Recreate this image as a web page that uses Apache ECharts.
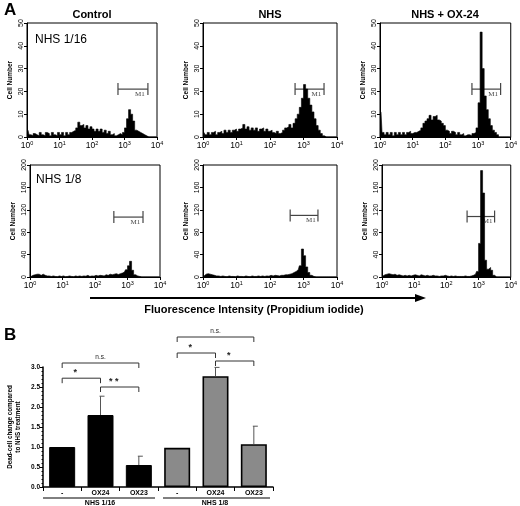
<!DOCTYPE html>
<html>
<head>
<meta charset="utf-8">
<script src="https://cdn.jsdelivr.net/npm/echarts@6/dist/echarts.min.js"></script>
<style>
html,body{margin:0;padding:0;background:#fff;}
#chart{width:520px;height:506px;}
</style>
</head>
<body>
<div id="chart"></div>
<script>
// ---------------- DATA ----------------
// Flow-cytometry histograms: counts per bin, 64 bins spanning 10^0 .. 10^4 (16 bins per decade)
const ctrl16 = [
3,1,0.5,1.5,1,0.5,2,1,0.5,2,
1.5,0.5,2,1,0.5,2,1,2,0.5,2,
1,2,2.5,3,4,6.5,5,5.5,4,5,
3.5,4.5,3.5,2.5,3.5,2.5,3.5,2,3,1.5,
2.5,1,1.5,0.5,1,1.5,1,2,4,8,
12,10,7,3,2.5,2,1.5,1,0.5,0,
0,0,0,0];
const nhs16 = [
2,1,2,1,2,2.5,1,2,2.5,1.5,
3,2,3,2,3,3.5,2.5,3.5,4,5.5,
3.5,4.5,3,4,3,4,2.5,3.5,4,2.5,
3.5,2.5,3,2,1.5,2.5,1.5,2,3,4,
4.5,5.5,4,6,8,10,13,17,23,21,
17,14,11,8,5,3,1.5,0.5,0,0,
0,0,0,0];
const ox16 = [
11,2,1,2,1,2,0.5,2,1,2,
1,2,1,2,2.5,1.5,2,2,2.5,3,
4,6,7,8,9.5,7.5,9,9.5,7.5,7,
6,5,3,2.5,1.5,2.5,2,1,2,1,
1.5,0.5,1,1,0.5,1.5,2,4,15,46,
30,18,12,8,5,3,2,1,0,0,
0,0,0,0];
const ctrl8 = [
1,3,4,5,5,3,5,3,2,2,
1,2,1,0.5,2,1,2,0.5,1,2,
1,0.5,2,1,2,1,2,1.5,3,1,
2,1.5,3,2,3,2.5,2,4,3,5,
4,5,6,4.5,6,7,9,13,20,28,
12,4,2,1,0,0,0,0,0,0,
0,0,0,0];
const nhs8 = [
2,5,6,5,4,3,2,2,1,2,
1,0.5,2,1,1,0.5,2,1,1,0.5,
2,1,0.5,2,1,1,2,1,2,1,
2,1.5,3,2,3,2.5,2,3,3,4,
4,5,6,8,10,13,20,50,38,18,
8,3,1,0,0,0,0,0,0,0,
0,0,0,0];
const ox8 = [
2,4,5,6,5,4,5,3,4,3,
2,3,2,3,2,3,4,3,2,4,
3,2,3,2,2,3,2,2,1,2,
2,3,2,1,2,1,2,1,1,1,
1,2,1,1,2,3,5,10,60,190,
150,30,14,17,12,3,0,0,0,0,
0,0,0,0];
const histograms = [ctrl16, nhs16, ox16, ctrl8, nhs8, ox8];
const columnTitles = ['Control', 'NHS', 'NHS + OX-24'];
const rowLabels = ['NHS 1/16', 'NHS 1/8'];
const yMaxByRow = [50, 200];
const yStepByRow = [10, 40];
// M1 gates (fluorescence range and height on count axis)
const m1Lo = [630, 560, 650, 380, 400, 440];
const m1Hi = [5250, 4100, 4900, 3000, 2700, 3150];
const m1Y  = [21, 21, 21, 107, 110, 108];

// Panel B
const barCategories = ['-', 'OX24', 'OX23', '-', 'OX24', 'OX23'];
const barGroups = ['NHS 1/16', 'NHS 1/8'];
const barValues = [1.0, 1.8, 0.55, 0.98, 2.77, 1.07];
const barErrors = [0, 0.47, 0.22, 0, 0.22, 0.45];
const bracketFrom = [0, 0, 1, 3, 3, 4];
const bracketTo   = [2, 1, 2, 5, 4, 5];
const bracketY    = [3.1, 2.72, 2.5, 3.75, 3.35, 3.15];
const bracketText = ['n.s.', '*', '* *', 'n.s.', '*', '*'];

// ---------------- CHART ----------------
const FONT = '"Liberation Sans", Arial, Helvetica, sans-serif';
const binX = histograms[0].map((_, i) => Math.pow(10, (i + 0.5) / 16));

const grids = [
  {left: 27,  top: 23,  width: 130, height: 114},
  {left: 203, top: 23,  width: 134, height: 114},
  {left: 380, top: 23,  width: 131, height: 114},
  {left: 30,  top: 165, width: 130, height: 112},
  {left: 203, top: 165, width: 134, height: 112},
  {left: 382, top: 165, width: 129, height: 112},
  {left: 43,  top: 367, width: 230, height: 120}
].map(g => Object.assign({show: g.top < 300, borderColor: '#000', borderWidth: 1, backgroundColor: 'transparent'}, g));

const xAxes = [], yAxes = [], series = [];
for (let p = 0; p < 6; p++) {
  const row = p < 3 ? 0 : 1;
  xAxes.push({
    type: 'log', logBase: 10, min: 1, max: 10000, gridIndex: p,
    axisLine: {show: true, lineStyle: {color: '#000', width: 1}},
    axisTick: {show: true, length: 3, lineStyle: {color: '#000'}},
    splitLine: {show: false},
    axisLabel: {
      margin: 3, color: '#000',
      formatter: v => '{a|10}{b|' + Math.round(Math.log10(v)) + '}',
      rich: {
        a: {fontSize: 8.5, fontFamily: FONT, color: '#000', lineHeight: 10, verticalAlign: 'bottom'},
        b: {fontSize: 5.5, fontFamily: FONT, color: '#000', verticalAlign: 'top'}
      }
    }
  });
  yAxes.push({
    type: 'value', gridIndex: p, min: 0, max: yMaxByRow[row], interval: yStepByRow[row],
    name: 'Cell Number', nameLocation: 'middle', nameGap: 13,
    nameTextStyle: {fontSize: 6.5, fontWeight: 'bold', fontFamily: FONT, color: '#000'},
    axisLine: {show: true, lineStyle: {color: '#000', width: 1}},
    axisTick: {show: true, length: 3, lineStyle: {color: '#000'}},
    splitLine: {show: false},
    axisLabel: {rotate: 90, fontSize: 7, margin: 2, color: '#000', fontFamily: FONT}
  });
  series.push({
    type: 'line', xAxisIndex: p, yAxisIndex: p,
    data: binX.map((x, i) => [x, histograms[p][i]]),
    symbol: 'none', silent: true, step: 'middle',
    lineStyle: {color: '#000', width: 0.6},
    areaStyle: {color: '#000', opacity: 1}
  });
  series.push({
    type: 'custom', xAxisIndex: p, yAxisIndex: p, silent: true,
    encode: {x: [0, 1], y: 2},
    data: [[m1Lo[p], m1Hi[p], m1Y[p]]],
    renderItem: (params, api) => {
      const a = api.coord([api.value(0), api.value(2)]);
      const b = api.coord([api.value(1), api.value(2)]);
      const h = 6;
      const st = {stroke: '#444', lineWidth: 1.2};
      return {type: 'group', children: [
        {type: 'line', shape: {x1: a[0], y1: a[1], x2: b[0], y2: b[1]}, style: st},
        {type: 'line', shape: {x1: a[0], y1: a[1] - h, x2: a[0], y2: a[1] + h}, style: st},
        {type: 'line', shape: {x1: b[0], y1: b[1] - h, x2: b[0], y2: b[1] + h}, style: st},
        {type: 'text', x: (a[0] + b[0]) / 2 + 2, y: a[1] + 1.5,
         style: {text: 'M1', font: '7px "Liberation Serif", "Times New Roman", serif', fill: '#444', align: 'left', verticalAlign: 'top'}}
      ]};
    }
  });
}

// Bar chart axes
xAxes.push({
  type: 'category', gridIndex: 6, data: barCategories,
  axisLine: {show: true, lineStyle: {color: '#000', width: 1.5}},
  axisTick: {show: true, length: 4, lineStyle: {color: '#000', width: 1}},
  axisLabel: {fontSize: 7, fontWeight: 'bold', color: '#000', fontFamily: FONT, margin: 3}
});
yAxes.push({
  type: 'value', gridIndex: 6, min: 0, max: 3, interval: 0.5,
  name: 'Dead-cell change compared\nto NHS treatment', nameLocation: 'middle', nameGap: 21,
  nameTextStyle: {fontSize: 6.3, fontWeight: 'bold', fontFamily: FONT, color: '#000', lineHeight: 8},
  axisLine: {show: true, lineStyle: {color: '#000', width: 1.5}},
  axisTick: {show: true, length: 3, lineStyle: {color: '#000'}},
  minorTick: {show: true, splitNumber: 5, length: 1.5, lineStyle: {color: '#000'}},
  splitLine: {show: false},
  axisLabel: {fontSize: 6.5, fontWeight: 'bold', color: '#000', fontFamily: FONT, margin: 3,
              formatter: v => v.toFixed(1)}
});
series.push({
  type: 'bar', xAxisIndex: 6, yAxisIndex: 6, barWidth: 26, silent: true,
  data: barValues.map((v, i) => ({
    value: v,
    itemStyle: i < 3 ? {color: '#000', borderColor: '#000', borderWidth: 1}
                     : {color: '#8a8a8a', borderColor: '#000', borderWidth: 1.6}
  }))
});
series.push({
  type: 'custom', xAxisIndex: 6, yAxisIndex: 6, silent: true, z: 5,
  encode: {x: 0, y: [1, 2]},
  data: barValues.map((v, i) => [i, v, v + barErrors[i]]).filter((d, i) => barErrors[i] > 0),
  renderItem: (params, api) => {
    const base = api.coord([api.value(0), api.value(1)]);
    const top = api.coord([api.value(0), api.value(2)]);
    const st = {stroke: '#555', lineWidth: 1};
    return {type: 'group', children: [
      {type: 'line', shape: {x1: top[0], y1: base[1], x2: top[0], y2: top[1]}, style: st},
      {type: 'line', shape: {x1: top[0] - 1, y1: top[1], x2: top[0] + 4, y2: top[1]}, style: st}
    ]};
  }
});
series.push({
  type: 'custom', xAxisIndex: 6, yAxisIndex: 6, silent: true, clip: false,
  encode: {x: [0, 1], y: 2},
  data: bracketFrom.map((f, i) => [f, bracketTo[i], bracketY[i]]),
  renderItem: (params, api) => {
    const a = api.coord([api.value(0), api.value(2)]);
    const b = api.coord([api.value(1), api.value(2)]);
    const st = {stroke: '#333', lineWidth: 1};
    const txt = bracketText[params.dataIndex];
    const star = txt !== 'n.s.';
    return {type: 'group', children: [
      {type: 'polyline', shape: {points: [[a[0], a[1] + 5], [a[0], a[1]], [b[0], b[1]], [b[0], b[1] + 5]]}, style: Object.assign({fill: null}, st)},
      {type: 'text', x: (a[0] + b[0]) / 2 - (star ? 6 : 0), y: a[1] - (star ? 1 : 2),
       style: {text: txt, font: (star ? 'bold 9px ' : '6.5px ') + FONT, fill: '#222', align: 'center', verticalAlign: 'bottom'}}
    ]};
  }
});

const graphic = [
  {type: 'text', left: 4, top: 2, style: {text: 'A', font: 'bold 17px ' + FONT, fill: '#000'}},
  {type: 'text', left: 4, top: 327, style: {text: 'B', font: 'bold 17px ' + FONT, fill: '#000'}},
  {type: 'text', x: 92, y: 15, style: {text: columnTitles[0], font: 'bold 11px ' + FONT, fill: '#000', align: 'center', verticalAlign: 'middle'}},
  {type: 'text', x: 270, y: 15, style: {text: columnTitles[1], font: 'bold 11px ' + FONT, fill: '#000', align: 'center', verticalAlign: 'middle'}},
  {type: 'text', x: 445, y: 15, style: {text: columnTitles[2], font: 'bold 11px ' + FONT, fill: '#000', align: 'center', verticalAlign: 'middle'}},
  {type: 'text', x: 35, y: 40, style: {text: rowLabels[0], font: '12px ' + FONT, fill: '#000', align: 'left', verticalAlign: 'middle'}},
  {type: 'text', x: 36, y: 180, style: {text: rowLabels[1], font: '12px ' + FONT, fill: '#000', align: 'left', verticalAlign: 'middle'}},
  {type: 'line', shape: {x1: 90, y1: 298, x2: 418, y2: 298}, style: {stroke: '#000', lineWidth: 2}},
  {type: 'polygon', shape: {points: [[415, 294], [426, 298], [415, 302]]}, style: {fill: '#000'}},
  {type: 'text', x: 254, y: 310, style: {text: 'Fluorescence Intensity (Propidium iodide)', font: 'bold 11px ' + FONT, fill: '#000', align: 'center', verticalAlign: 'middle'}},
  {type: 'line', shape: {x1: 43, y1: 498, x2: 155, y2: 498}, style: {stroke: '#000', lineWidth: 1}},
  {type: 'line', shape: {x1: 163, y1: 498, x2: 270, y2: 498}, style: {stroke: '#000', lineWidth: 1}},
  {type: 'text', x: 100, y: 503, style: {text: barGroups[0], font: 'bold 7px ' + FONT, fill: '#000', align: 'center', verticalAlign: 'middle'}},
  {type: 'text', x: 215, y: 503, style: {text: barGroups[1], font: 'bold 7px ' + FONT, fill: '#000', align: 'center', verticalAlign: 'middle'}}
];

const chart = echarts.init(document.getElementById('chart'), null, {renderer: 'canvas'});
chart.setOption({
  animation: false,
  backgroundColor: '#fff',
  textStyle: {fontFamily: FONT},
  grid: grids, xAxis: xAxes, yAxis: yAxes, series: series, graphic: graphic
});
</script>
</body>
</html>
